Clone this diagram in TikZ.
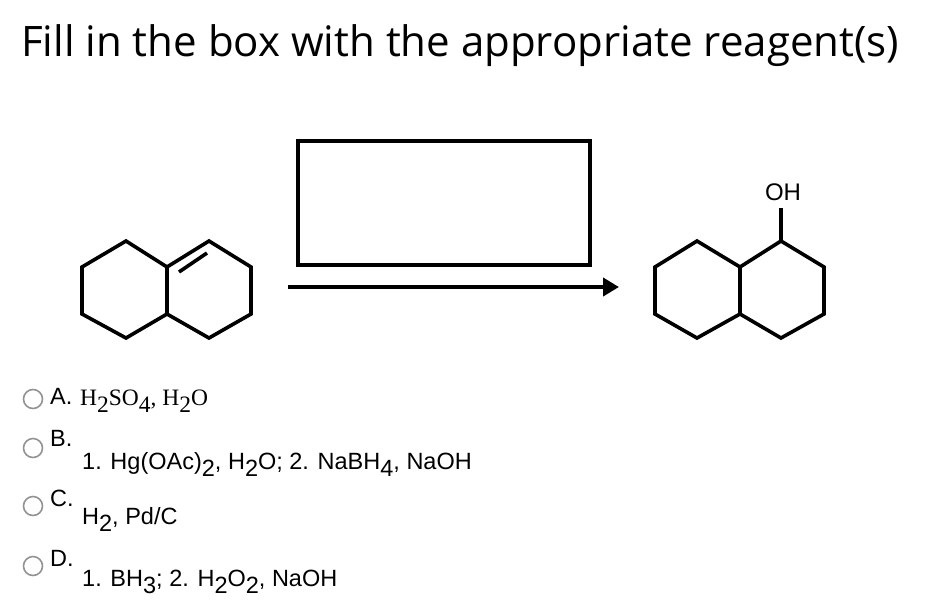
\documentclass[tikz,border=0pt]{standalone}
\usepackage{fontspec}
\setmainfont{Liberation Sans}
\newfontfamily\titlefont{Open Sans}
\newfontfamily\serf{Liberation Serif}
\usetikzlibrary{arrows.meta}
\newcommand{\sbs}[1]{\raisebox{-0.3em}{#1}}
\begin{document}
\begin{tikzpicture}[x=1pt,y=-1pt,
  bond/.style={line width=3.6pt,line join=miter},
  opt/.style={draw=gray!85,line width=1.6pt,circle,minimum size=19pt,inner sep=0pt},
  txt/.style={anchor=base west,inner sep=0pt,font=\fontsize{23.5}{26}\selectfont}]
\useasboundingbox (0,0) rectangle (928,614);
\node[anchor=base west,inner sep=0pt,font=\titlefont\fontsize{42}{48}\selectfont] (title) at (21,56) {Fill in the box with the appropriate reagent(s)};
% left molecule
\draw[bond] (167,267) -- (126,241) -- (82,267) -- (82,314) -- (126,338) -- (167,314) -- cycle;
\draw[bond] (167,267) -- (209,241) -- (251,267) -- (251,314) -- (209,338) -- (167,314);
\draw[bond] (179,272) -- (207,253);
% box and arrow
\node[draw,line width=3.4pt,minimum width=292pt,minimum height=124pt,inner sep=0pt] (box) at (444,203) {};
\coordinate (a1) at (288,287);
\coordinate (a2) at (619,287);
\draw[line width=4pt,-{Triangle[length=16pt,width=18pt]}] (a1) -- (a2);
% right molecule
\draw[bond] (740,267) -- (697,241) -- (655,267) -- (655,314) -- (697,338) -- (740,314) -- cycle;
\draw[bond] (740,267) -- (781,241) -- (824,267) -- (824,314) -- (781,338) -- (740,314);
\node[font=\fontsize{24}{26}\selectfont,inner sep=0pt] (oh) at (783,192) {OH};
\draw[bond] (781,241) -- (781,208);
% options
\node[opt] (ca) at (33,399) {};
\node[opt] (cb) at (33,448) {};
\node[opt] (cc) at (33,506) {};
\node[opt] (cd) at (33,566) {};
\node[txt] (la) at (50,404) {A.};
\node[txt] (ta) at (80,405) {\serf H\sbs{2}SO\sbs{4}, H\sbs{2}O};
\node[txt] (lb) at (50,446) {B.};
\node[txt] (tb) at (82,469) {1. Hg(OAc)\sbs{2}, H\sbs{2}O; 2. NaBH\sbs{4}, NaOH};
\node[txt] (lc) at (50,506) {C.};
\node[txt] (tc) at (82,524) {H\sbs{2}, Pd/C};
\node[txt] (ld) at (50,566) {D.};
\node[txt] (td) at (82,586) {1. BH\sbs{3}; 2. H\sbs{2}O\sbs{2}, NaOH};
\end{tikzpicture}
\end{document}
